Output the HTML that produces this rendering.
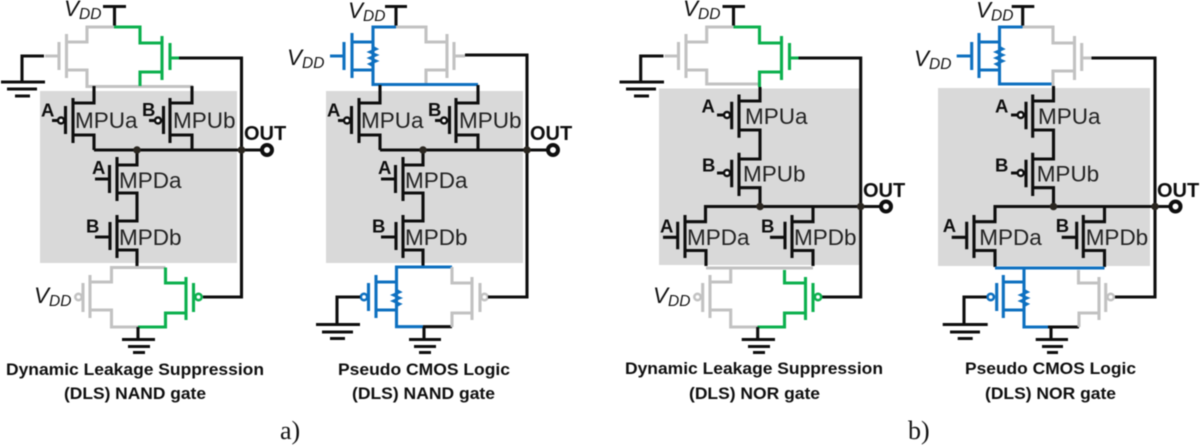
<!DOCTYPE html>
<html><head><meta charset="utf-8"><style>
html,body{margin:0;padding:0;background:#fff}
svg{display:block;filter:blur(.4px)}
text{font-family:"Liberation Sans",sans-serif}
.k,.g,.n,.b{fill:none;stroke-width:3.100;stroke-linejoin:miter}
.k{stroke:#0e0e0e}.g{stroke:#c2c2c2}.n{stroke:#0cb04e}.b{stroke:#0e70c0}
.t{font-size:22.500px;fill:#222}
.l{font-size:18.500px;font-weight:bold;fill:#0e0e0e}
.o{font-size:20px;font-weight:bold;fill:#0e0e0e}
.v{font-style:italic;fill:#111;font-size:22.500px}
.v tspan{font-size:15.500px}
.c{font-size:16.500px;font-weight:bold;fill:#0e0e0e}
.s{font-family:"Liberation Serif",serif;font-size:26px;fill:#111}
</style></head><body>
<svg width="1200" height="446" viewBox="0 0 1200 446" xmlns="http://www.w3.org/2000/svg">
<rect x="40" y="91" width="197" height="172" fill="#d9d9d9"/>
<rect x="326" y="91" width="197" height="172" fill="#d9d9d9"/>
<rect x="659" y="88.500" width="201" height="176.500" fill="#d9d9d9"/>
<rect x="938" y="88" width="212" height="178" fill="#d9d9d9"/>

<!-- Panel 1 -->
<g>
<path class="k" d="M103 6.500H126M114.500 6.500V27"/>
<path class="g" d="M114 27H87V42H66M66.500 34V78M59 42V70M45 56H59M66 70H87V86.500H193"/>
<path class="n" d="M114 27H140V43H162M162 36V80M170 43V70M170 58H180M140 86V72H162"/>
<path class="k" d="M44 56H22V82M1 82H45M7 89H37M15 96H30"/>
<path class="k" d="M179 58H241.500V297H203"/>
<path class="k" d="M94 86V103H73M73 98V143M65.500 106V134M73 135H94V150M52 120.500H58"/>
<path class="k" d="M192 86V103H170M170 98V143M163.500 106V134M170 135H192V150M149 120.500H155"/>
<path class="k" d="M94 150H264"/>
<path class="k" d="M137 150V165H117M117 157V201M109.500 165V193M95 179H109.500M117 193H137V221H117M117 215V258M110 222V250M95 237H110M117 250H137V267"/>
<circle cx="61" cy="120.500" r="3" fill="#fff" stroke="#0e0e0e" stroke-width="2.400"/>
<circle cx="158" cy="120.500" r="3" fill="#fff" stroke="#0e0e0e" stroke-width="2.400"/>
<circle cx="137" cy="150" r="3.800" fill="#2a2620"/><circle cx="241.500" cy="150" r="3.800" fill="#2a2620"/>
<circle cx="267" cy="150" r="5" fill="#fff" stroke="#0e0e0e" stroke-width="4"/>
<path class="g" d="M165.500 267.500H111.500V282H90M90 275V318M83 283V312M90 310H111.500V327H138"/>
<circle cx="78.500" cy="297" r="3.200" fill="#fff" stroke="#c2c2c2" stroke-width="2.600"/>
<path class="n" d="M165.500 267.500V283H186M186 277V320M193.500 283V312M186 313H165.500V327H138"/>
<circle cx="198.500" cy="297" r="3.200" fill="#fff" stroke="#0cb04e" stroke-width="2.600"/>
<path class="k" d="M138 327V339.500M122 339.500H155M128 346.500H150M133 352.500H145"/>
<text class="l" x="41" y="116.500">A</text><text class="l" x="142" y="116">B</text><text class="l" x="92" y="174">A</text><text class="l" x="86" y="232.500">B</text>
<text class="t" x="75" y="128">MPUa</text><text class="t" x="173" y="128">MPUb</text><text class="t" x="119" y="188">MPDa</text><text class="t" x="119" y="245">MPDb</text>
<text class="o" x="244" y="140">OUT</text>
<text class="v" x="64" y="16">V<tspan dy="3">DD</tspan></text>
<text class="v" x="34" y="303">V<tspan dy="3">DD</tspan></text>
<text class="c" x="6" y="375" textLength="258" lengthAdjust="spacingAndGlyphs">Dynamic Leakage Suppression</text>
<text class="c" x="64" y="399" textLength="142" lengthAdjust="spacingAndGlyphs">(DLS) NAND gate</text>
<text class="s" x="280" y="439">a)</text>
</g>

<!-- Panel 2 -->
<g>
<path class="k" d="M385 6.500H407M396 6.500V27"/>
<path class="g" d="M396 27H426V42H447M447 34V78M454 42V70M454 56H465M447 70H426V84.500"/>
<path class="b" d="M396 27H373V84.500H478M352 33V78M344 42V70M330 56H344M352 42H373M352 70H373"/>
<path class="b" d="M373 47l3.500 2-7 3 7 3-7 3 7 3-7 3 3.500 2" style="stroke-width:2.400"/>
<path class="k" d="M465 55H527V297H488"/>
<path class="k" d="M380 85V103H359M359 98V143M351.500 106V134M359 135H380V150M338 120.500H344"/>
<path class="k" d="M478 85V103H456M456 98V143M449.500 106V134M456 135H478V150M435 120.500H441"/>
<path class="k" d="M380 150H550"/>
<path class="k" d="M423 150V165H403M403 157V201M395.500 165V193M381 179H395.500M403 193H423V221H403M403 215V258M396 222V250M381 237H396M403 250H423V267"/>
<circle cx="347" cy="120.500" r="3" fill="#fff" stroke="#0e0e0e" stroke-width="2.400"/>
<circle cx="444" cy="120.500" r="3" fill="#fff" stroke="#0e0e0e" stroke-width="2.400"/>
<circle cx="423" cy="150" r="3.800" fill="#2a2620"/><circle cx="527" cy="150" r="3.800" fill="#2a2620"/>
<circle cx="553" cy="150" r="5" fill="#fff" stroke="#0e0e0e" stroke-width="4"/>
<path class="b" d="M452 267H396.500V326.700H423M376 275V318M368.500 283V311M376 282H396.500M376 310H396.500"/>
<path class="b" d="M396.500 290l3.500 2-7 3 7 3-7 3 7 3-3.500 2" style="stroke-width:2.400"/>
<circle cx="364" cy="297" r="3.200" fill="#fff" stroke="#0e70c0" stroke-width="2.600"/>
<path class="k" d="M360 297H337V324.500M316 324.500H360M322 332H353M330 338.500H345"/>
<path class="k" d="M423 326.700H452M424 327V339.500M409 339.500H441M414 346.500H436M419 352.500H431"/>
<path class="g" d="M452 267V283H472M472 277V320M480 283V312M472 313H452V327"/>
<circle cx="484.500" cy="297" r="3.200" fill="#fff" stroke="#c2c2c2" stroke-width="2.600"/>
<path class="k" d="M488 297H527"/>
<text class="l" x="327" y="116.500">A</text><text class="l" x="428" y="116">B</text><text class="l" x="378" y="174">A</text><text class="l" x="372" y="232.500">B</text>
<text class="t" x="361" y="128">MPUa</text><text class="t" x="459" y="128">MPUb</text><text class="t" x="405" y="188">MPDa</text><text class="t" x="405" y="245">MPDb</text>
<text class="o" x="530" y="140">OUT</text>
<text class="v" x="348" y="18">V<tspan dy="3">DD</tspan></text>
<text class="v" x="287" y="65">V<tspan dy="3">DD</tspan></text>
<text class="c" x="338" y="375" textLength="172" lengthAdjust="spacingAndGlyphs">Pseudo CMOS Logic</text>
<text class="c" x="352" y="399" textLength="143" lengthAdjust="spacingAndGlyphs">(DLS) NAND gate</text>
</g>

<!-- Panel 3 -->
<g>
<path class="k" d="M722.500 6.500H745M733.500 6.500V27"/>
<path class="g" d="M733.500 27H706.700V42H685.500M686 34V78M678.500 42V70M664.500 56H678.500M685.500 70H706.700V84H759.500"/>
<path class="n" d="M733.500 27H759.500V43H781.500M781.500 36V80M789.500 43V70M789.500 58H799M759.500 87V72H781.500"/>
<path class="k" d="M663.500 56H640.700V82M619.500 82H664M626 89H656M634 96H649"/>
<path class="k" d="M798.500 58H860.700V297H822"/>
<path class="k" d="M760 87V101H739M739 94.500V137.700M731.700 101.700V129.300M739 130H760V159H739M739 152.700V196M731.700 159.700V187.300M739 187.700H760V206.500M717 115H723M717 173H723"/>
<circle cx="727" cy="115" r="3" fill="#fff" stroke="#0e0e0e" stroke-width="2.400"/>
<circle cx="727" cy="173" r="3" fill="#fff" stroke="#0e0e0e" stroke-width="2.400"/>
<path class="k" d="M883 206.500H705.500V221.700H685M685 215V258M677.700 221.700V249.300M663 237.300H677.700M685 250.500H706V266M813 206.500V221.700H792M792 215V258M785 221.700V249.300M770 237.300H785M792 250.500H813V266"/>
<circle cx="760" cy="206.500" r="3.800" fill="#2a2620"/><circle cx="860.700" cy="206.500" r="3.800" fill="#2a2620"/>
<circle cx="886" cy="206.500" r="5" fill="#fff" stroke="#0e0e0e" stroke-width="4"/>
<path class="g" d="M706 268H813M730.700 268V282H710M710 275V318M702.700 283V312M710 310H730.700V327H757.500"/>
<circle cx="697.500" cy="297" r="3.200" fill="#fff" stroke="#c2c2c2" stroke-width="2.600"/>
<path class="n" d="M784.500 270V283H805.500M805.500 277V320M813 283V312M805.500 313H784.500V327H757.500"/>
<circle cx="818" cy="297" r="3.200" fill="#fff" stroke="#0cb04e" stroke-width="2.600"/>
<path class="k" d="M757.700 327V339.500M741.700 339.500H775M748 346.500H770M753 352.500H765"/>
<text class="l" x="701.500" y="112.700">A</text><text class="l" x="702" y="171.700">B</text><text class="l" x="660" y="232.700">A</text><text class="l" x="761" y="232.700">B</text>
<text class="t" x="745" y="124">MPUa</text><text class="t" x="743" y="181.700">MPUb</text><text class="t" x="687" y="245">MPDa</text><text class="t" x="794" y="245">MPDb</text>
<text class="o" x="863" y="197">OUT</text>
<text class="v" x="683" y="16">V<tspan dy="3">DD</tspan></text>
<text class="v" x="653" y="303">V<tspan dy="3">DD</tspan></text>
<text class="c" x="625" y="374" textLength="258" lengthAdjust="spacingAndGlyphs">Dynamic Leakage Suppression</text>
<text class="c" x="689" y="399" textLength="131" lengthAdjust="spacingAndGlyphs">(DLS) NOR gate</text>
</g>

<!-- Panel 4 -->
<g>
<path class="k" d="M1011.700 6.500H1034.300M1022.700 6.500V27"/>
<path class="b" d="M1022.700 27H999.500V84H1053M979 33V78M971.700 42V70M956.700 56H971.700M979 42H999.500M979 70H999.500"/>
<path class="b" d="M999.500 47l3.500 2-7 3 7 3-7 3 7 3-7 3 3.500 2" style="stroke-width:2.400"/>
<path class="g" d="M1022.700 27H1053V43H1074.500M1074.500 36V80M1081.700 43V71M1081.700 58H1092M1074.500 71H1053V86"/>
<path class="k" d="M1091.500 58H1155V297H1115"/>
<path class="k" d="M1053.500 86V101H1032.700M1032.700 94.500V137.700M1026 101.700V129.300M1032.700 130H1053.500V159H1032.700M1032.700 152.700V196M1026 159.700V187.300M1032.700 187.700H1053.500V206.500M1011 115H1017M1011 173H1017"/>
<circle cx="1020.700" cy="115" r="3" fill="#fff" stroke="#0e0e0e" stroke-width="2.400"/>
<circle cx="1020.700" cy="173" r="3" fill="#fff" stroke="#0e0e0e" stroke-width="2.400"/>
<path class="k" d="M1172 206.500H995V221.700H974M974 215V258M966.700 221.700V249.300M951.700 237.300H966.700M974 250.500H995V267M1104.500 206.500V221.700H1083.300M1083.300 215V258M1076.700 221.700V249.300M1061.700 237.300H1076.700M1083.300 250.500H1104.500V267"/>
<circle cx="1053.500" cy="206.500" r="3.800" fill="#2a2620"/><circle cx="1155" cy="206.500" r="3.800" fill="#2a2620"/>
<circle cx="1175.500" cy="206.500" r="5" fill="#fff" stroke="#0e0e0e" stroke-width="4"/>
<path class="b" d="M995 268H1104.500M1024 268V327H1048M1003.300 275V318M996.700 283V311M1003.300 282H1024M1003.300 310H1024"/>
<path class="b" d="M1024 290l3.500 2-7 3 7 3-7 3 7 3-3.500 2" style="stroke-width:2.400"/>
<circle cx="990.700" cy="297" r="3.200" fill="#fff" stroke="#0e70c0" stroke-width="2.600"/>
<path class="k" d="M986.500 297H964V324.500M942.700 324.500H987.700M950 332H980M957.700 338.500H972.700"/>
<path class="k" d="M1048 327H1079M1051 327V339.500M1035.700 339.500H1068M1042 346.500H1063M1047 352.500H1058"/>
<path class="g" d="M1078.500 270V283H1099M1099 277V320M1105.700 283V312M1099 313H1079V327"/>
<circle cx="1110.700" cy="297" r="3.200" fill="#fff" stroke="#c2c2c2" stroke-width="2.600"/>
<path class="k" d="M1115 297H1155"/>
<text class="l" x="995" y="112.700">A</text><text class="l" x="995" y="171.700">B</text><text class="l" x="942.700" y="232">A</text><text class="l" x="1055.700" y="232">B</text>
<text class="t" x="1038" y="124">MPUa</text><text class="t" x="1036.700" y="181.700">MPUb</text><text class="t" x="979.300" y="245">MPDa</text><text class="t" x="1085.700" y="245">MPDb</text>
<text class="o" x="1157" y="197">OUT</text>
<text class="v" x="976" y="17.500">V<tspan dy="3">DD</tspan></text>
<text class="v" x="914" y="66">V<tspan dy="3">DD</tspan></text>
<text class="c" x="965" y="374" textLength="171" lengthAdjust="spacingAndGlyphs">Pseudo CMOS Logic</text>
<text class="c" x="985" y="399" textLength="131" lengthAdjust="spacingAndGlyphs">(DLS) NOR gate</text>
<text class="s" x="908" y="439">b)</text>
</g>
</svg>
</body></html>
